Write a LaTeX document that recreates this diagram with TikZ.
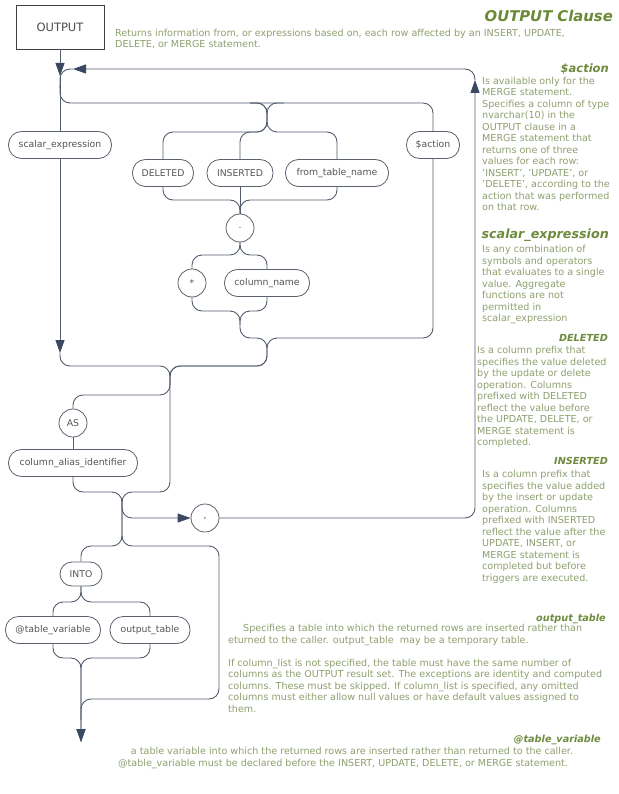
\documentclass[tikz,border=0pt]{standalone}
\usepackage{fontspec}
\setmainfont{DejaVu Sans}
\usetikzlibrary{arrows.meta}
\definecolor{linec}{HTML}{535D6E}
\definecolor{arrc}{HTML}{3A4862}
\definecolor{nodetxt}{HTML}{555555}
\definecolor{nodeb}{HTML}{5A626E}
\definecolor{titlec}{HTML}{6A8A38}
\definecolor{headc}{HTML}{6E8B3E}
\definecolor{bodyc}{HTML}{8EA06E}
\begin{document}
\begin{tikzpicture}[x=1pt,y=-1pt,
  rr/.style={draw=linec, line width=0.9pt, rounded corners=10pt},
  tip/.style={-{Triangle[length=13pt,width=9pt,color=arrc]}},
  term/.style={draw=nodeb, line width=0.8pt, rounded corners=13pt, minimum height=27pt, inner xsep=4pt, inner ysep=0pt, text=nodetxt, font=\fontsize{9.3}{11}\selectfont, fill=white},
  circ/.style={draw=nodeb, line width=0.8pt, circle, minimum size=28pt, inner sep=0pt, text=nodetxt, font=\fontsize{9.3}{11}\selectfont, fill=white},
  body/.style={inner sep=0pt, anchor=base west, text=bodyc, font=\fontsize{9.6}{11.5}\selectfont},
  bodyc/.style={inner sep=0pt, anchor=base, text=bodyc, font=\fontsize{9.6}{11.5}\selectfont},
  head/.style={inner sep=0pt, anchor=base east, text=headc, font=\fontsize{9.7}{11}\selectfont\bfseries\itshape},
]
\useasboundingbox (0,0) rectangle (618,794);
\fill[white] (0,0) rectangle (618,794);

% ---------- nodes ----------
\node[draw=black!75, line width=0.8pt, minimum width=88pt, minimum height=44pt, inner sep=0pt, text=black!70, font=\fontsize{11.5}{13}\selectfont] (out) at (60,27) {OUTPUT};
\node[term, minimum width=103pt] (scal) at (60,145) {scalar\_expression};
\node[term, minimum width=61pt] (del) at (163,173) {DELETED};
\node[term, minimum width=66pt] (ins) at (240,173) {INSERTED};
\node[term, minimum width=103pt] (ftn) at (337,173) {from\_table\_name};
\node[term, minimum width=53pt] (act) at (433,145) {\$action};
\node[circ] (dot) at (240,228) {.};
\node[circ] (star) at (192,283) {*};
\node[term, minimum width=85pt] (coln) at (267,283) {column\_name};
\node[circ] (as) at (73,423) {AS};
\node[term, minimum width=129pt] (cai) at (73,463) {column\_alias\_identifier};
\node[circ] (comma) at (205,518) {,};
\node[term, minimum width=42pt, minimum height=24pt, rounded corners=12pt] (into) at (81,574) {INTO};
\node[term, minimum width=95pt] (tv) at (53,630) {@table\_variable};
\node[term, minimum width=80pt] (ot) at (150,630) {output\_table};

% ---------- junction coordinates ----------
\coordinate (a0) at (60,76);
\coordinate (jTop) at (60,69);
\coordinate (jTopB) at (60,88);
\coordinate (loopL) at (73,69);
\coordinate (loopR) at (475,69);
\coordinate (upTip) at (475,80);
\coordinate (commaR) at (475,518);
\coordinate (br1s) at (60,86);
\coordinate (br1) at (60,103);
\coordinate (br1r) at (433,103);
\coordinate (bc1l) at (250,103);
\coordinate (bc1r) at (284,103);
\coordinate (bc1) at (267,103);
\coordinate (bc1b) at (267,132);
\coordinate (j2) at (240,200);
\coordinate (s3) at (240,255);
\coordinate (j3) at (240,311);
\coordinate (j3b) at (240,325);
\coordinate (j4) at (240,338);
\coordinate (j4r) at (267,338);
\coordinate (j4a) at (433,338);
\coordinate (a1) at (60,353);
\coordinate (j5l) at (60,366);
\coordinate (j5) at (170,366);
\coordinate (j5b) at (170,385);
\coordinate (j5r) at (267,366);
\coordinate (s6) at (170,395);
\coordinate (s6l) at (73,395);
\coordinate (j7) at (122,492);
\coordinate (j7r) at (170,492);
\coordinate (s8a) at (122,500);
\coordinate (s8) at (122,518);
\coordinate (s9) at (122,546);
\coordinate (s9r) at (219,546);
\coordinate (s10) at (81,602);
\coordinate (j11) at (81,658);
\coordinate (j12) at (81,699);
\coordinate (j12r) at (219,699);
\coordinate (j12b) at (81,720);
\coordinate (endTip) at (81,742);

% ---------- connectors ----------
\draw[rr, tip] (out.south) -- (a0);
\draw[rr] (a0) -- (scal.north);
\draw[rr, tip] (comma.east) -- (commaR) -- (upTip);
\draw[rr, tip] (upTip) -- (loopR) -- (loopL);
\draw[rr] (loopL) -- (jTop) -- (jTopB);
\draw[rr] (br1s) -- (br1) -- (br1r) -- (act.north);
\draw[rr] (bc1l) -- (bc1) -- (bc1b) -| (del.north);
\draw[rr] (bc1l) -- (bc1) -- (bc1b) -| (ins.north);
\draw[rr] (bc1r) -- (bc1) -- (bc1b) -| (ftn.north);
\draw[rr] (del.south) |- (j2) -- (dot.north);
\draw[rr] (ftn.south) |- (j2) -- (dot.north);
\draw[rr] (ins.south) -- (dot.north);
\draw[rr] (dot.south) -- (s3) -| (star.north);
\draw[rr] (dot.south) -- (s3) -| (coln.north);
\draw[rr] (star.south) |- (j3) -- (j4) -- (j4r) -- (j5r) -- (j5) -- (s6) -- (s6l) -- (as.north);
\draw[rr] (coln.south) |- (j3) -- (j3b);
\draw[rr] (act.south) -- (j4a) -- (j4r) -- (j5r) -- (j5) -- (j7r) -- (j7) -- (s9) -| (into.north);
\draw[rr, tip] (scal.south) -- (a1);
\draw[rr] (a1) -- (j5l) -- (j5) -- (j5b);
\draw[rr] (as.south) -- (cai.north);
\draw[rr] (cai.south) |- (j7) -- (s9) -- (s9r) -- (j12r) -- (j12) -- (j12b);
\draw[rr, tip] (s8a) -- (s8) -- (comma.west);
\draw[rr] (into.south) -- (s10) -| (tv.north);
\draw[rr] (into.south) -- (s10) -| (ot.north);
\draw[rr, tip] (tv.south) |- (j11) -- (endTip);
\draw[rr, tip] (ot.south) |- (j11) -- (endTip);

% ---------- texts ----------
\node[inner sep=0pt, anchor=base east, text=titlec, font=\fontsize{14.8}{16}\selectfont\bfseries\itshape] (title) at (613,22) {OUTPUT Clause};
\node[body] (desc) at (115,36.5) {\parbox[t]{480pt}{Returns information from, or expressions based on, each row affected by an INSERT, UPDATE,\\DELETE, or MERGE statement.}};

\node[head, font=\fontsize{11.5}{13}\selectfont\bfseries\itshape] (hact) at (609,72.5) {\$action};
\node[body] (tact) at (482,84.5) {\parbox[t]{140pt}{Is available only for the\\MERGE statement.\\Specifies a column of type\\nvarchar(10) in the\\OUTPUT clause in a\\MERGE statement that\\returns one of three\\values for each row:\\'INSERT', 'UPDATE', or\\'DELETE', according to the\\action that was performed\\on that row.}};

\node[head, font=\fontsize{12.7}{14}\selectfont\bfseries\itshape] (hscal) at (609,239) {scalar\_expression};
\node[body] (tscal) at (482,252.5) {\parbox[t]{140pt}{Is any combination of\\symbols and operators\\that evaluates to a single\\value. Aggregate\\functions are not\\permitted in\\scalar\_expression}};

\node[head] (hdel) at (608,341) {DELETED};
\node[body] (tdel) at (477,353.5) {\parbox[t]{140pt}{Is a column prefix that\\specifies the value deleted\\by the update or delete\\operation. Columns\\prefixed with DELETED\\reflect the value before\\the UPDATE, DELETE, or\\MERGE statement is\\completed.}};

\node[head] (hins) at (608,464) {INSERTED};
\node[body] (tins) at (482,477.5) {\parbox[t]{140pt}{Is a column prefix that\\specifies the value added\\by the insert or update\\operation. Columns\\prefixed with INSERTED\\reflect the value after the\\UPDATE, INSERT, or\\MERGE statement is\\completed but before\\triggers are executed.}};

\node[head] (hot) at (606,621) {output\_table};
\node[body] (tot) at (228,631.5) {\parbox[t]{390pt}{\hspace*{15pt}Specifies a table into which the returned rows are inserted rather than\\eturned to the caller. output\_table\ \ may be a temporary table.\\[11.5pt]If column\_list is not specified, the table must have the same number of\\columns as the OUTPUT result set. The exceptions are identity and computed\\columns. These must be skipped. If column\_list is specified, any omitted\\columns must either allow null values or have default values assigned to\\them.}};

\node[head] (htv) at (601,742) {@table\_variable};
\node[bodyc] (ttv1) at (352,754.5) {a table variable into which the returned rows are inserted rather than returned to the caller.};
\node[bodyc] (ttv2) at (343,766) {@table\_variable must be declared before the INSERT, UPDATE, DELETE, or MERGE statement.};
\end{tikzpicture}
\end{document}
